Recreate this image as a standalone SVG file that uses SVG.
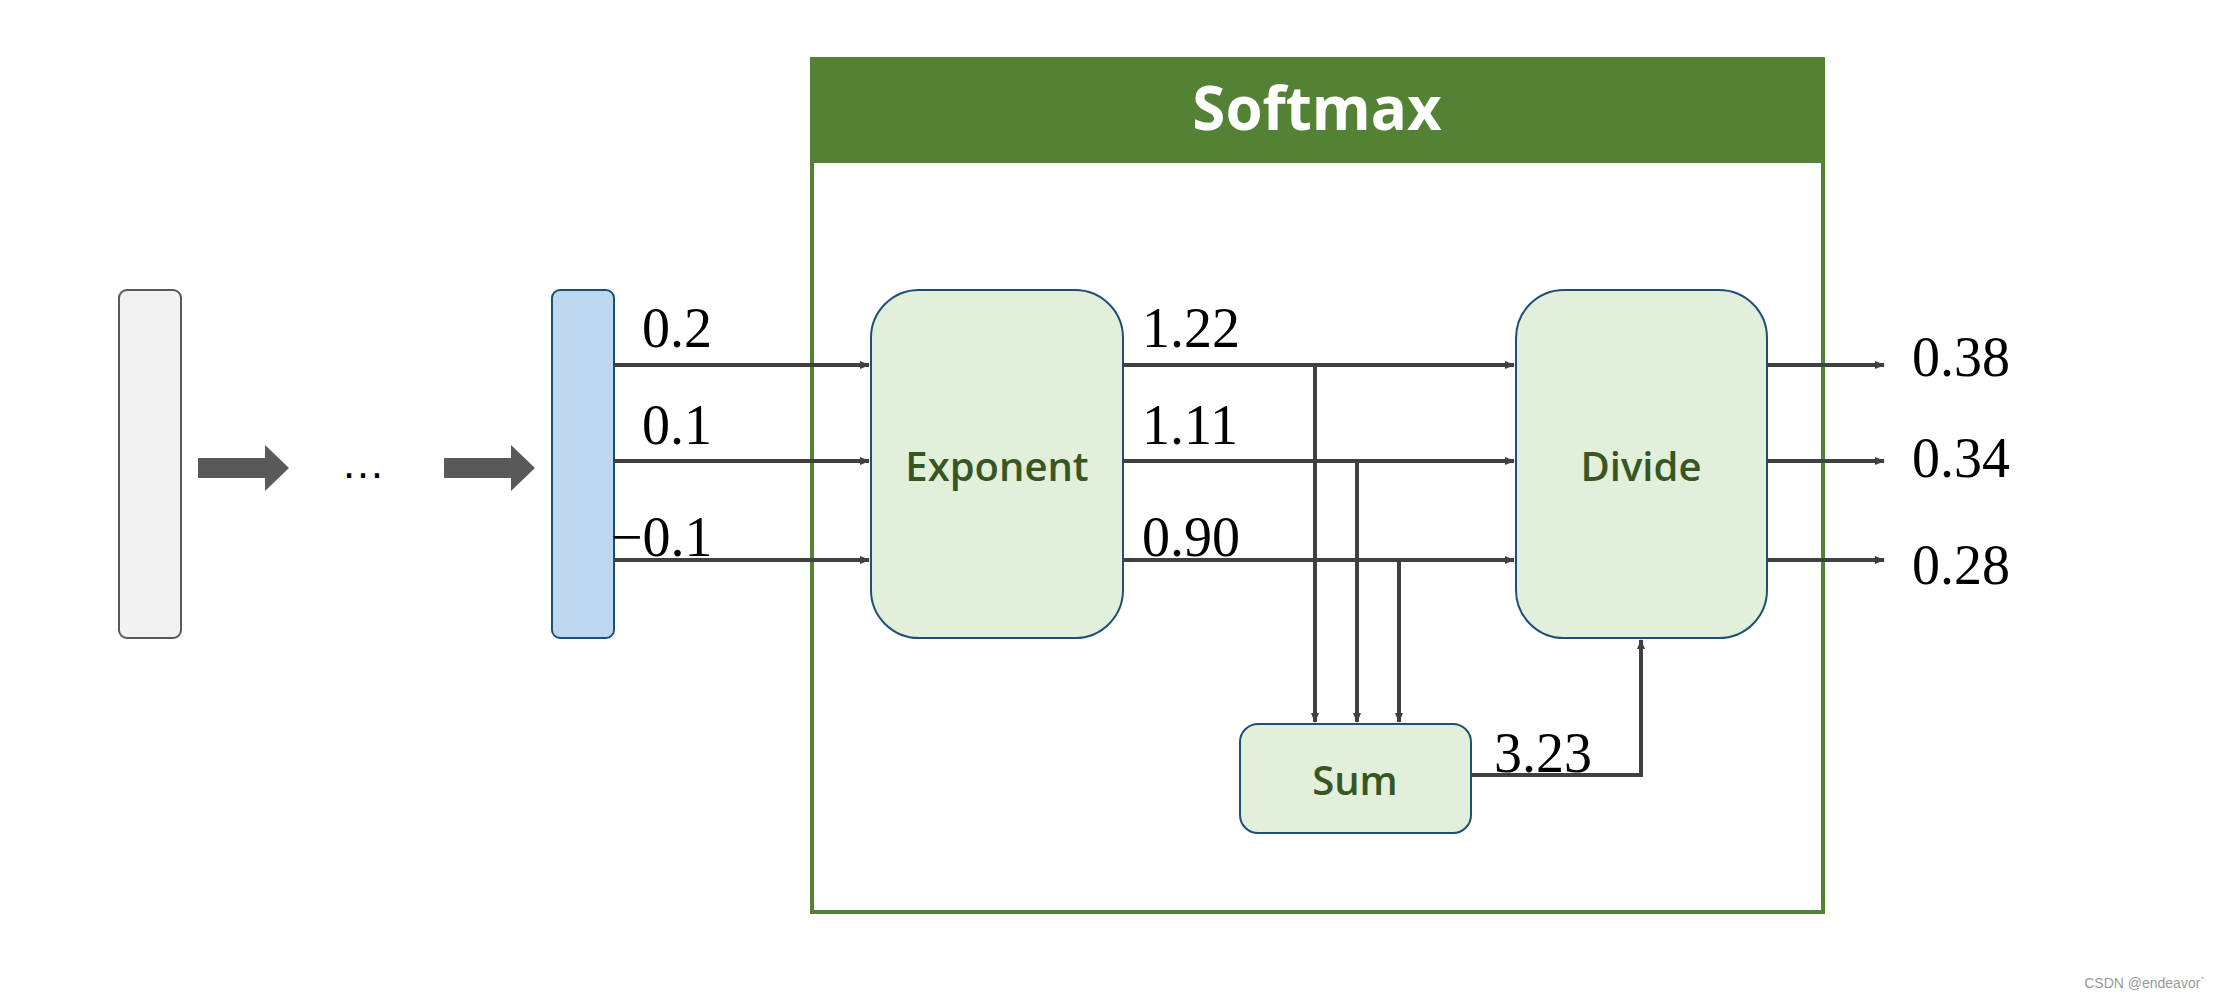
<svg xmlns="http://www.w3.org/2000/svg" width="2218" height="999" viewBox="0 0 2218 999">
<defs>
<marker id="ah" markerWidth="10" markerHeight="8" refX="9" refY="4" orient="auto" markerUnits="userSpaceOnUse"><path d="M0,0 L10,4 L0,8 z" fill="#404040"/></marker>
<style>
.ln{stroke:#404040;stroke-width:4;fill:none}
.num{font-family:"Liberation Serif",serif;font-size:56px;fill:#000}
.nd{fill:#e2efda;stroke:#1f4e79;stroke-width:2}
.lb{font-family:"Open Sans","Liberation Sans",sans-serif;font-size:40px;font-weight:600;fill:#375623;text-anchor:middle}
</style>
</defs>
<rect width="2218" height="999" fill="#fff"/>
<g id="softmax">
<rect x="812" y="59" width="1011" height="853" fill="none" stroke="#548235" stroke-width="4"/>
<rect x="810" y="57" width="1015" height="106" fill="#548235"/>
<text x="1317" y="130" font-family="Open Sans,Liberation Sans,sans-serif" font-size="60" font-weight="bold" fill="#fff" text-anchor="middle">Softmax</text>
</g>
<g id="layer0"><rect x="119" y="290" width="62" height="348" rx="8" fill="#f2f2f2" stroke="#595959" stroke-width="2"/></g>
<g id="dots"><text x="363" y="478" font-family="Liberation Sans,sans-serif" font-size="44" text-anchor="middle" fill="#000">…</text></g>
<g id="layerN"><rect x="552" y="290" width="62" height="348" rx="8" fill="#bdd7ee" stroke="#1f4e79" stroke-width="2"/></g>
<g id="exponent"><rect class="nd" x="871" y="290" width="252" height="348" rx="48"/><text class="lb" x="997" y="481">Exponent</text></g>
<g id="divide"><rect class="nd" x="1516" y="290" width="251" height="348" rx="48"/><text class="lb" x="1641" y="481">Divide</text></g>
<g id="sum"><rect class="nd" x="1240" y="724" width="231" height="109" rx="18"/><text class="lb" x="1355" y="795">Sum</text></g>
<g id="connectors">
<path d="M198,458 H265 V445 L289,468 L265,491 V478 H198 z" fill="#595959"/>
<path d="M444,458 H511 V445 L535,468 L511,491 V478 H444 z" fill="#595959"/>
<line class="ln" x1="614" y1="365" x2="869" y2="365" marker-end="url(#ah)"/>
<line class="ln" x1="614" y1="461" x2="869" y2="461" marker-end="url(#ah)"/>
<line class="ln" x1="614" y1="560" x2="869" y2="560" marker-end="url(#ah)"/>
<line class="ln" x1="1123" y1="365" x2="1514" y2="365" marker-end="url(#ah)"/>
<line class="ln" x1="1123" y1="461" x2="1514" y2="461" marker-end="url(#ah)"/>
<line class="ln" x1="1123" y1="560" x2="1514" y2="560" marker-end="url(#ah)"/>
<line class="ln" x1="1315" y1="365" x2="1315" y2="722" marker-end="url(#ah)"/>
<line class="ln" x1="1357" y1="461" x2="1357" y2="722" marker-end="url(#ah)"/>
<line class="ln" x1="1399" y1="560" x2="1399" y2="722" marker-end="url(#ah)"/>
<polyline class="ln" points="1471,775 1641,775 1641,640" marker-end="url(#ah)"/>
<line class="ln" x1="1767" y1="365" x2="1884" y2="365" marker-end="url(#ah)"/>
<line class="ln" x1="1767" y1="461" x2="1884" y2="461" marker-end="url(#ah)"/>
<line class="ln" x1="1767" y1="560" x2="1884" y2="560" marker-end="url(#ah)"/>
</g>
<g id="labels">
<text class="num" x="642" y="347">0.2</text>
<text class="num" x="642" y="444">0.1</text>
<text class="num" x="611" y="556">−0.1</text>
<text class="num" x="1142" y="347">1.22</text>
<text class="num" x="1142" y="444">1.11</text>
<text class="num" x="1142" y="556">0.90</text>
<text class="num" x="1494" y="772">3.23</text>
<text class="num" x="1912" y="376">0.38</text>
<text class="num" x="1912" y="477">0.34</text>
<text class="num" x="1912" y="584">0.28</text>
</g>
<text x="2205" y="988" font-family="Liberation Sans,sans-serif" font-size="14" fill="#999" text-anchor="end">CSDN @endeavor`</text>
</svg>
